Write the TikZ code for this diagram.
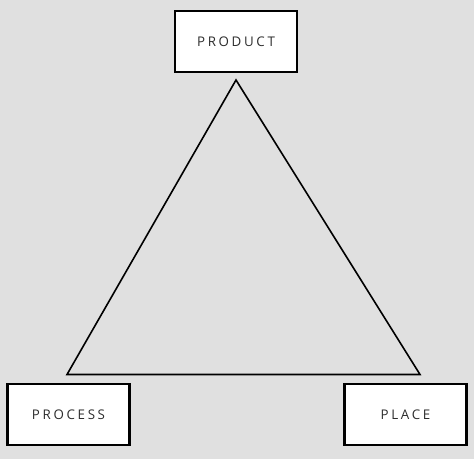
\documentclass[tikz,border=0pt]{standalone}
\usepackage{fontspec}
\setsansfont{Open Sans}[LetterSpace=20]
\definecolor{bggray}{RGB}{224, 224, 224}
\definecolor{labelgray}{RGB}{45, 45, 45}
\usetikzlibrary{positioning}

\begin{document}
\begin{tikzpicture}[x=0.75pt, y=-0.75pt,
  pbox/.style={draw, fill=white, line width=1.6pt, minimum width=91.5pt,
               minimum height=45.5pt, inner sep=0pt, font=\sffamily\fontsize{10}{12}\selectfont,
               text=labelgray},
]
% background
\fill[bggray] (0,0) rectangle (474,459);

% corners of the triangle
\coordinate (top) at (236,80);
\coordinate (left) at (67,374.5);
\coordinate (right) at (420,374.5);
\draw[line width=1.2pt, line join=miter] (top) -- (left) -- (right) -- cycle;

% labels
\node[pbox] (product) at (236,41.5) {PRODUCT};
\node[pbox] (process) at (68.5,414.5) {PROCESS};
\node[pbox] (place) at (405.5,414.5) {PLACE};
\end{tikzpicture}
\end{document}
